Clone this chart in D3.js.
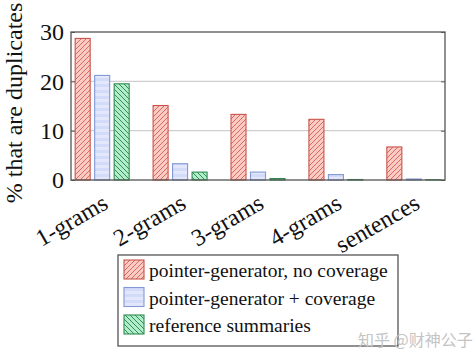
<!DOCTYPE html>
<html><head><meta charset="utf-8">
<script src="https://cdn.jsdelivr.net/npm/d3@7"></script>
<style>html,body{margin:0;padding:0;background:#fff;}svg{display:block;}</style>
</head><body>
<svg id="c" width="474" height="363" font-family="Liberation Serif, Times New Roman, serif"></svg>
<script>
const categories = ["1-grams","2-grams","3-grams","4-grams","sentences"];
const seriesNames = ["pointer-generator, no coverage","pointer-generator + coverage","reference summaries"];
const noCoverage = [28.7, 15.1, 13.3, 12.3, 6.7];
const withCoverage = [21.2, 3.3, 1.6, 1.1, 0.2];
const reference = [19.5, 1.6, 0.3, 0.1, 0.05];
const yTicks = [0, 10, 20, 30];
const seriesValues = [noCoverage, withCoverage, reference];

const svg = d3.select("#c");
const SERIF = "Liberation Serif";
const L = 71, R = 445, T = 32, B = 180;

const defs = svg.append("defs");
function hatch(id, bg, line, dir, size) {
  const p = defs.append("pattern").attr("id", id).attr("patternUnits", "userSpaceOnUse")
    .attr("width", size).attr("height", size);
  p.append("rect").attr("width", size).attr("height", size).attr("fill", bg);
  if (dir === "ne") {
    p.append("path").attr("d", `M0,${size} L${size},0 M${-size/2},${size/2} L${size/2},${-size/2} M${size/2},${size*1.5} L${size*1.5},${size/2}`)
      .attr("stroke", line).attr("stroke-width", 1);
  } else if (dir === "nw") {
    p.append("path").attr("d", `M0,0 L${size},${size} M${-size/2},${size/2} L${size/2},${size*1.5} M${size/2},${-size/2} L${size*1.5},${size/2}`)
      .attr("stroke", line).attr("stroke-width", 1);
  } else {
    p.append("rect").attr("y", size/2).attr("width", size).attr("height", size/2).attr("fill", line);
  }
}
hatch("pRed", "#fbcbc3", "#d86a62", "ne", 5);
hatch("pBlue", "#d2dbf7", "#e2e7fb", "h", 6);
hatch("pGreen", "#b2edcb", "#2f8f55", "nw", 5);
const fills = ["url(#pRed)", "url(#pBlue)", "url(#pGreen)"];
const strokes = ["#c7544c", "#8398d6", "#2f8a50"];

const x = d3.scalePoint().domain(categories).range([L, R]).padding(0.4);
const xs = d3.scaleBand().domain(d3.range(3)).range([-27, 27]).paddingInner(0.23).paddingOuter(0);
const y = d3.scaleLinear().domain([0, 30]).range([B, T]);

svg.append("g").selectAll("line").data(yTicks.filter(t => t > 0 && t < 30)).join("line")
  .attr("x1", L).attr("x2", R).attr("y1", d => y(d)).attr("y2", d => y(d))
  .attr("stroke", "#cfcfcf").attr("stroke-width", 1.2);

seriesValues.forEach((vals, si) => {
  svg.append("g").selectAll("rect").data(vals).join("rect")
    .attr("x", (d, i) => x(categories[i]) + xs(si))
    .attr("width", xs.bandwidth())
    .attr("y", d => y(d))
    .attr("height", d => B - y(d))
    .attr("fill", fills[si])
    .attr("stroke", strokes[si])
    .attr("stroke-width", 1.1);
});

svg.append("rect").attr("x", L).attr("y", T).attr("width", R - L).attr("height", B - T)
  .attr("fill", "none").attr("stroke", "#555").attr("stroke-width", 1.3);

const yAxisL = d3.axisRight(y).tickValues(yTicks).tickSize(4).tickFormat("");
svg.append("g").attr("transform", `translate(${L},0)`).call(yAxisL)
  .call(g => g.select(".domain").remove())
  .call(g => g.selectAll("line").attr("stroke", "#555"));
const yAxisR = d3.axisLeft(y).tickValues(yTicks).tickSize(4).tickFormat("");
svg.append("g").attr("transform", `translate(${R},0)`).call(yAxisR)
  .call(g => g.select(".domain").remove())
  .call(g => g.selectAll("line").attr("stroke", "#555"));

svg.append("g").selectAll("text").data(yTicks).join("text")
  .attr("font-family", SERIF)
  .attr("x", L - 7).attr("y", d => y(d)).attr("dy", "0.35em")
  .attr("text-anchor", "end").attr("font-size", 24)
  .attr("fill", "#111").text(d => d);

svg.append("g").selectAll("text").data(categories).join("text")
  .attr("font-family", SERIF)
  .attr("transform", d => `translate(${x(d) - 1},${B + 13}) rotate(-30)`)
  .attr("text-anchor", "end").attr("dy", "0.7em")
  .attr("font-size", 24).attr("fill", "#111").text(d => d);

svg.append("text").attr("font-family", SERIF)
  .attr("transform", `translate(22,${103}) rotate(-90)`)
  .attr("text-anchor", "middle").attr("font-size", 24)
  .attr("fill", "#111").text("% that are duplicates");

const lg = svg.append("g");
lg.append("rect").attr("x", 118).attr("y", 255).attr("width", 280).attr("height", 91)
  .attr("fill", "#fff").attr("stroke", "#555").attr("stroke-width", 1.3);
seriesNames.forEach((n, i) => {
  const yy = 260 + i * 27.5;
  lg.append("rect").attr("x", 124).attr("y", yy).attr("width", 20).attr("height", 19)
    .attr("fill", fills[i]).attr("stroke", strokes[i]).attr("stroke-width", 1.1);
  lg.append("text").attr("font-family", SERIF).attr("x", 149).attr("y", yy + 17)
    .attr("font-size", 19.5).attr("fill", "#111").text(n);
});

svg.append("text").attr("x", 358).attr("y", 346).attr("font-family", "Noto Sans CJK SC")
  .attr("font-size", 16).attr("fill", "#c4c4c4").text("知乎 @财神公子");
</script>
</body></html>
